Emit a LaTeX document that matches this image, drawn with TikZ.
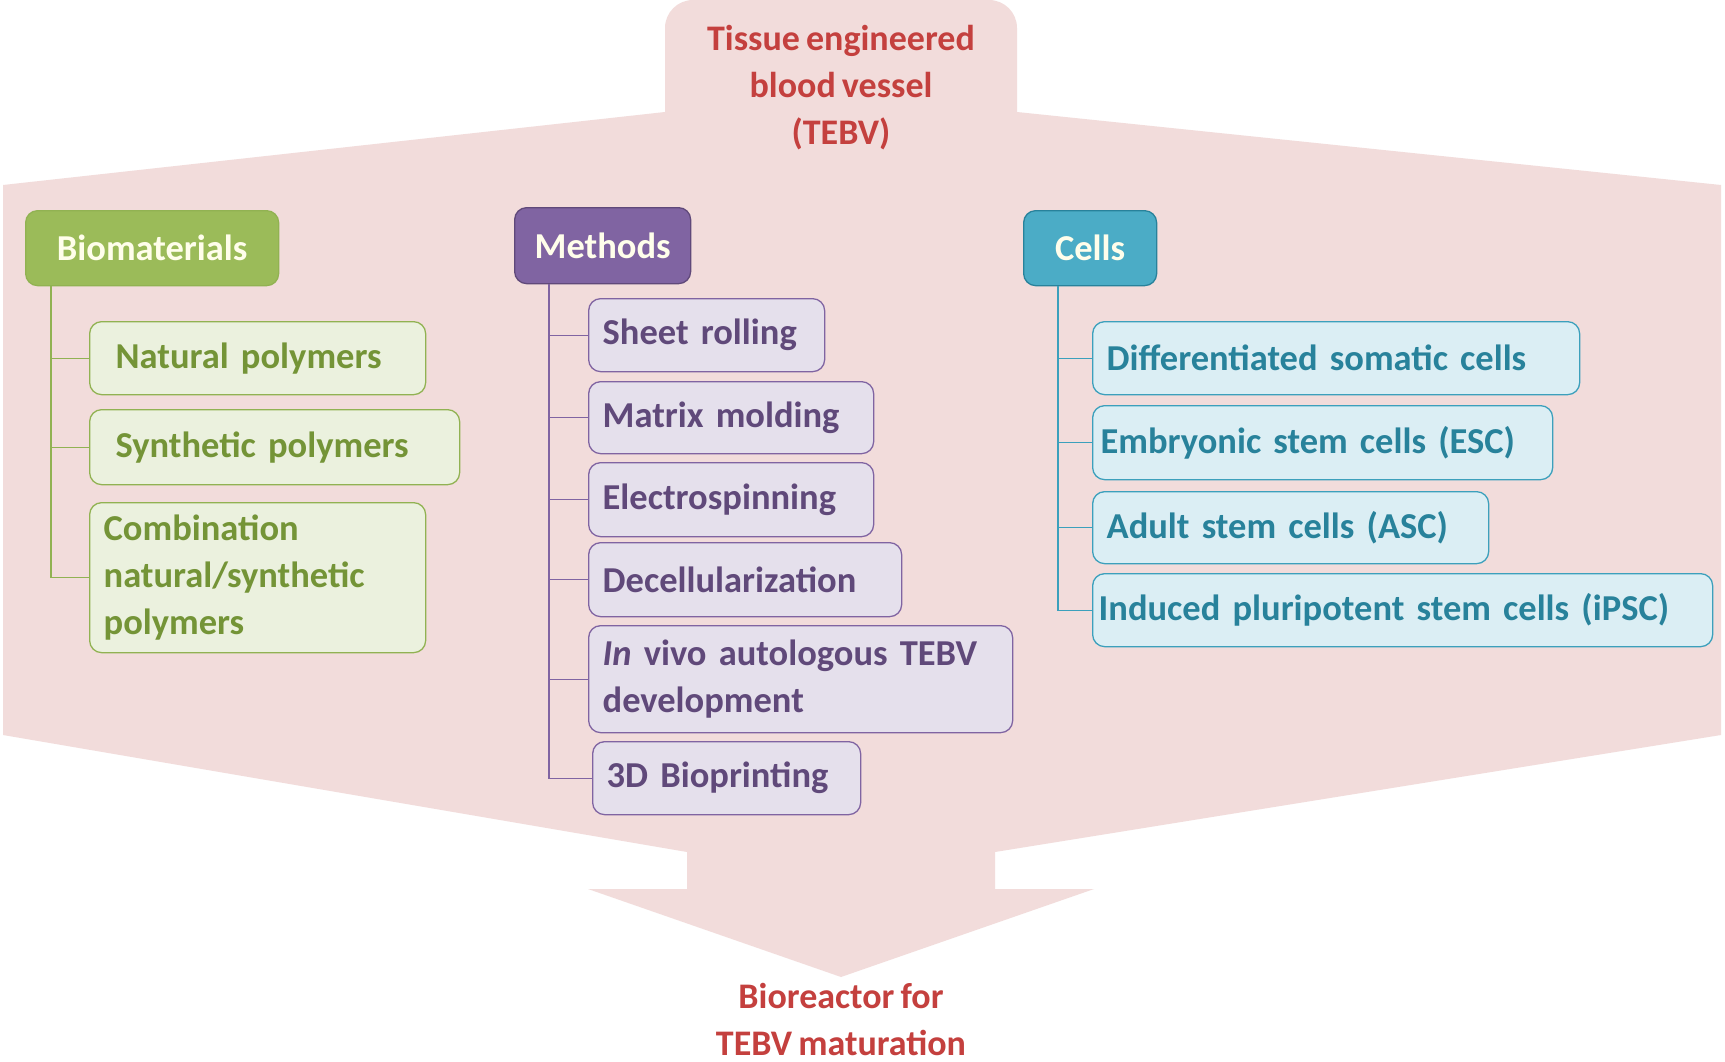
\documentclass[tikz,border=0pt]{standalone}
\usepackage{fontspec}
\setmainfont[WordSpace=0.75]{Carlito}
\begin{document}
\begin{tikzpicture}[x=1pt,y=-1pt,
  bx/.style={draw, rounded corners=12pt, line width=1.3pt, anchor=north west, align=left, inner xsep=14pt, inner ysep=0pt, font=\fontsize{36.5}{47}\selectfont\bfseries},
  hdr/.style={bx, text=white!92!yellow, align=center, inner xsep=0pt},
  gb/.style={bx, fill=gfill, draw=gline, text=gtext},
  pb/.style={bx, fill=pfill, draw=pline, text=ptext},
  cb/.style={bx, fill=cfill, draw=cline, text=ctext},
  gl/.style={draw=gline, line width=1.3pt},
  pl/.style={draw=pline, line width=1.3pt},
  cl/.style={draw=cline, line width=1.3pt},
  ttl/.style={text=tred, align=center, font=\fontsize{36}{47}\selectfont\bfseries}]
\definecolor{bg}{RGB}{242,220,219}
\definecolor{tred}{RGB}{196,64,62}
\definecolor{gfill}{RGB}{235,241,222}\definecolor{gline}{RGB}{145,178,82}\definecolor{gtext}{RGB}{116,148,55}\definecolor{ghdr}{RGB}{155,187,89}
\definecolor{pfill}{RGB}{229,224,236}\definecolor{pline}{RGB}{128,100,162}\definecolor{ptext}{RGB}{96,73,122}\definecolor{phdr}{RGB}{128,100,162}
\definecolor{cfill}{RGB}{219,238,244}\definecolor{cline}{RGB}{60,160,188}\definecolor{ctext}{RGB}{40,130,155}\definecolor{chdr}{RGB}{75,172,198}
\useasboundingbox (0,0) rectangle (1725,1062);
\fill[white] (0,0) rectangle (1725,1062);
\fill[bg] (665,112) [rounded corners=28pt] -- (665,0) -- (1017,0) [sharp corners] -- (1017,112)
  -- (1721,185) -- (1721,735) -- (995,852) -- (995,889) -- (1094,889) -- (841,977) -- (588,889) -- (687,889) -- (687,852) -- (3,735) -- (3,185) -- cycle;
\node[ttl] (title) at (841,88) {Tissue engineered\\blood vessel\\(TEBV)};
\node[ttl] (bottom) at (841,1019) {Bioreactor for\\TEBV maturation};
% Biomaterials
\node[hdr, fill=ghdr, draw=gline, minimum width=253, minimum height=75] (bio) at (25,210) {Biomaterials};
\node[gb, text width=336-28, minimum height=73] (nat) at (89,321) {\hspace*{12pt}Natural polymers};
\node[gb, text width=370-28, minimum height=75] (syn) at (89,409) {\hspace*{12pt}Synthetic polymers};
\node[gb, text width=336-28, minimum height=150] (com) at (89,502) {Combination\\natural/synthetic\\polymers};
\draw[gl] ([xshift=26]bio.south west) |- (nat.west);
\draw[gl] ([xshift=26]bio.south west) |- (syn.west);
\draw[gl] ([xshift=26]bio.south west) |- (com.west);
% Methods
\node[hdr, fill=phdr, draw=ptext, minimum width=176, minimum height=76] (met) at (514,207) {Methods};
\node[pb, text width=236-28, minimum height=73] (m1) at (588,298) {Sheet rolling};
\node[pb, text width=285-28, minimum height=72] (m2) at (588,381) {Matrix molding};
\node[pb, text width=285-28, minimum height=74] (m3) at (588,462) {Electrospinning};
\node[pb, text width=313-28, minimum height=74] (m4) at (588,542) {Decellularization};
\node[pb, text width=424-28, minimum height=107] (m5) at (588,625) {\textit{In} vivo autologous TEBV\\development};
\node[pb, text width=268-28, minimum height=73] (m6) at (592,741) {3D Bioprinting};
\foreach \m in {m1,m2,m3,m4,m5,m6} \draw[pl] ([xshift=35]met.south west) |- (\m.west);
% Cells
\node[hdr, fill=chdr, draw=ctext, minimum width=133, minimum height=75] (cel) at (1023,210) {Cells};
\node[cb, text width=487-28, minimum height=73] (c1) at (1092,321) {Differentiated somatic cells};
\node[cb, minimum height=74, inner xsep=8pt, text width=460-16] (c2) at (1092,405) {Embryonic stem cells (ESC)};
\node[cb, text width=396-28, minimum height=72] (c3) at (1092,491) {Adult stem cells (ASC)};
\node[cb, minimum height=73, inner xsep=6pt, text width=620-12] (c4) at (1092,573) {Induced pluripotent stem cells (iPSC)};
\foreach \c in {c1,c2,c3,c4} \draw[cl] ([xshift=35]cel.south west) |- (\c.west);
\end{tikzpicture}
\end{document}
